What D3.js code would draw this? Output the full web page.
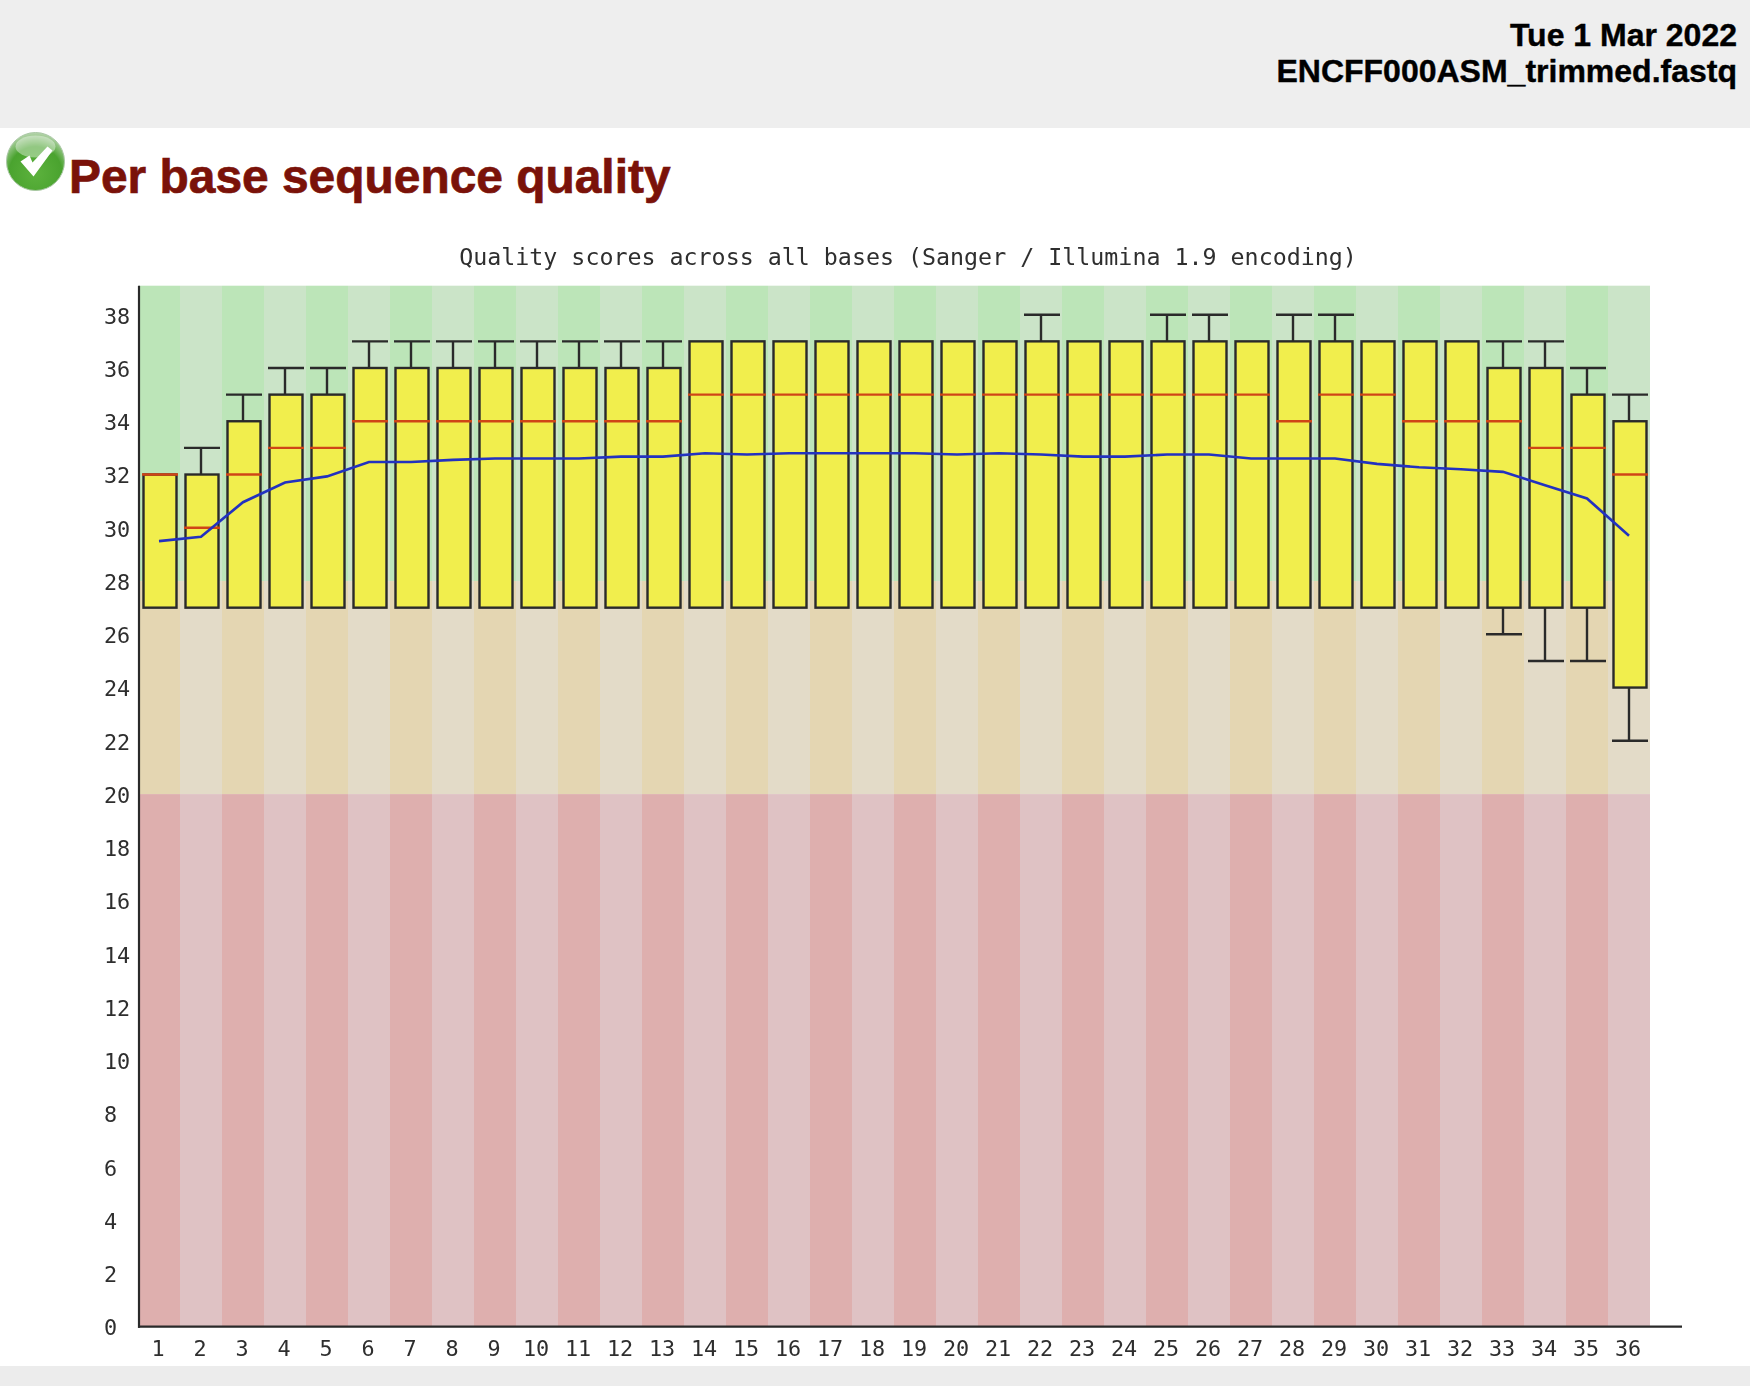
<!DOCTYPE html>
<html>
<head>
<meta charset="utf-8">
<title>Per base sequence quality</title>
<script src="https://cdn.jsdelivr.net/npm/d3@7"></script>
<style>
  html, body { margin: 0; padding: 0; background: #fff; }
  svg { display: block; }
  .mono { font-family: "DejaVu Sans Mono", monospace; fill: #2e2e2e; }
  .sans { font-family: "Liberation Sans", Arial, sans-serif; font-weight: bold; }
</style>
</head>
<body>
<div id="chart"></div>
<script>
const positions = d3.range(1, 37);
const yTicks = [0, 2, 4, 6, 8, 10, 12, 14, 16, 18, 20, 22, 24, 26, 28, 30, 32, 34, 36, 38];

const q3 = [32, 32, 34, 35, 35, 36, 36, 36, 36, 36, 36, 36, 36, 37, 37, 37, 37, 37,
  37, 37, 37, 37, 37, 37, 37, 37, 37, 37, 37, 37, 37, 37, 36, 36, 35, 34];
const medians = [32, 30, 32, 33, 33, 34, 34, 34, 34, 34, 34, 34, 34, 35, 35, 35, 35, 35,
  35, 35, 35, 35, 35, 35, 35, 35, 35, 34, 35, 35, 34, 34, 34, 33, 33, 32];
const q1 = [27, 27, 27, 27, 27, 27, 27, 27, 27, 27, 27, 27, 27, 27, 27, 27, 27, 27,
  27, 27, 27, 27, 27, 27, 27, 27, 27, 27, 27, 27, 27, 27, 27, 27, 27, 24];
const whiskerHigh = [32, 33, 35, 36, 36, 37, 37, 37, 37, 37, 37, 37, 37, 37, 37, 37, 37, 37,
  37, 37, 37, 38, 37, 37, 38, 38, 37, 38, 38, 37, 37, 37, 37, 37, 36, 35];
const whiskerLow = [27, 27, 27, 27, 27, 27, 27, 27, 27, 27, 27, 27, 27, 27, 27, 27, 27, 27,
  27, 27, 27, 27, 27, 27, 27, 27, 27, 27, 27, 27, 27, 27, 26, 25, 25, 22];
const means = [29.5, 29.66, 30.96, 31.7, 31.93, 32.47, 32.47, 32.55, 32.6, 32.6, 32.6, 32.67,
  32.67, 32.8, 32.75, 32.8, 32.8, 32.8, 32.8, 32.75, 32.8, 32.75, 32.67, 32.67, 32.75, 32.75,
  32.6, 32.6, 32.6, 32.4, 32.27, 32.2, 32.1, 31.6, 31.1, 29.7];

const zones = [
  { from: 28, to: 39.09, dark: "#bce5b8", light: "#cbe4c8" },
  { from: 20, to: 28, dark: "#e4d6b2", light: "#e3dbc8" },
  { from: 0, to: 20, dark: "#deafae", light: "#dfc2c4" },
];

const width = 1750;
const height = 1386;

const svg = d3
  .select("#chart")
  .append("svg")
  .attr("width", width)
  .attr("height", height)
  .attr("viewBox", `0 0 ${width} ${height}`);

const defs = svg.append("defs");
defs.append("filter").attr("id", "soft").attr("filterUnits", "userSpaceOnUse")
  .attr("x", 0).attr("y", 0).attr("width", width).attr("height", height)
  .append("feGaussianBlur").attr("stdDeviation", 0.5);

// page furniture
svg.append("rect").attr("width", width).attr("height", 128).attr("fill", "#eeeeee");
svg.append("rect").attr("y", 1366).attr("width", width).attr("height", 20).attr("fill", "#ececec");

svg.append("text").attr("class", "sans").attr("x", 1737).attr("y", 45.5)
  .attr("text-anchor", "end").attr("font-size", 32).attr("fill", "#000")
  .attr("stroke", "#000").attr("stroke-width", 0.4).text("Tue 1 Mar 2022");
svg.append("text").attr("class", "sans").attr("x", 1737).attr("y", 81.5)
  .attr("text-anchor", "end").attr("font-size", 32).attr("fill", "#000")
  .attr("stroke", "#000").attr("stroke-width", 0.4).text("ENCFF000ASM_trimmed.fastq");
svg.append("text").attr("class", "sans").attr("x", 69).attr("y", 193)
  .attr("font-size", 47.9).attr("fill", "#7a1209")
  .attr("stroke", "#7a1209").attr("stroke-width", 0.7).text("Per base sequence quality");

// tick icon
const grad = defs.append("radialGradient").attr("id", "okGrad")
  .attr("cx", "50%").attr("cy", "70%").attr("r", "70%");
grad.append("stop").attr("offset", "0%").attr("stop-color", "#5cb23d");
grad.append("stop").attr("offset", "65%").attr("stop-color", "#4aa32f");
grad.append("stop").attr("offset", "100%").attr("stop-color", "#b9d6b0");
const icon = svg.append("g").attr("transform", "translate(35.5,161.5)");
icon.append("circle").attr("r", 29).attr("fill", "url(#okGrad)").attr("stroke", "#a9c7a4").attr("stroke-width", 1);
icon.append("ellipse").attr("cy", -15).attr("rx", 20).attr("ry", 11).attr("fill", "#fff").attr("opacity", 0.4);
icon.append("path").attr("d", "M-15,0 L-6,-6 L-3,1 L12,-15 L17,-11 L-2,15 Z").attr("fill", "#fff");

// plot
const x = d3.scaleBand().domain(positions).range([138, 1650]);
const y = d3.scaleLinear().domain([0, 39.09]).range([1326.7, 285.7]);

const plot = svg.append("g").attr("filter", "url(#soft)");

zones.forEach((z) => {
  plot.append("g")
    .selectAll("rect")
    .data(positions)
    .join("rect")
    .attr("x", (d) => Math.max(x(d), 139))
    .attr("y", y(z.to))
    .attr("width", (d) => x(d) + x.bandwidth() - Math.max(x(d), 139))
    .attr("height", y(z.from) - y(z.to))
    .attr("fill", (d) => (d % 2 ? z.dark : z.light));
});

const boxW = 33;
const capW = 36;
const ink = "#2a2a2a";
const cx = (i) => x(positions[i]) + x.bandwidth() / 2;

const boxes = plot.append("g").selectAll("g").data(positions).join("g");

// whiskers drawn first so the boxes sit on top
boxes.each(function (d, i) {
  const g = d3.select(this);
  [[whiskerHigh[i], q3[i]], [whiskerLow[i], q1[i]]].forEach(([tip, edge]) => {
    if (tip === edge) return;
    g.append("line").attr("x1", cx(i)).attr("x2", cx(i))
      .attr("y1", y(tip)).attr("y2", y(edge)).attr("stroke", ink).attr("stroke-width", 2.4);
    g.append("line").attr("x1", cx(i) + 1 - capW / 2).attr("x2", cx(i) + 1 + capW / 2)
      .attr("y1", y(tip)).attr("y2", y(tip)).attr("stroke", ink).attr("stroke-width", 2.4);
  });
  g.append("rect")
    .attr("x", cx(i) + 1 - boxW / 2)
    .attr("y", y(q3[i]))
    .attr("width", boxW)
    .attr("height", y(q1[i]) - y(q3[i]))
    .attr("fill", "#f1ee4d")
    .attr("stroke", ink)
    .attr("stroke-width", 2.4);
  g.append("line").attr("x1", cx(i) + 1 - capW / 2).attr("x2", cx(i) + 1 + capW / 2)
    .attr("y1", y(medians[i])).attr("y2", y(medians[i]))
    .attr("stroke", "#cf4418").attr("stroke-width", 2.4);
});

const meanLine = d3.line().x((d, i) => cx(i)).y((d) => y(d));
plot.append("path").datum(means).attr("d", meanLine)
  .attr("fill", "none").attr("stroke", "#2430c0").attr("stroke-width", 2.6);

// axes
const yAxis = plot.append("g").attr("transform", "translate(139,0)")
  .call(d3.axisLeft(y).tickValues(yTicks).tickSize(0).tickFormat((d) => d));
yAxis.select(".domain").remove();
yAxis.selectAll("text")
  .attr("class", "mono")
  .attr("x", -35)
  .attr("dy", "0.38em")
  .attr("text-anchor", "start")
  .attr("font-size", 21.8);

const xAxis = plot.append("g").attr("transform", "translate(-1,1326.7)")
  .call(d3.axisBottom(x).tickSize(0));
xAxis.select(".domain").remove();
xAxis.selectAll("text")
  .attr("class", "mono")
  .attr("y", 29)
  .attr("dy", 0)
  .attr("font-size", 21.8);

plot.append("line").attr("x1", 139).attr("x2", 139).attr("y1", 285.7).attr("y2", 1327.7)
  .attr("stroke", ink).attr("stroke-width", 2.2);
plot.append("line").attr("x1", 138).attr("x2", 1682).attr("y1", 1326.7).attr("y2", 1326.7)
  .attr("stroke", ink).attr("stroke-width", 2.2);

plot.append("text").attr("class", "mono").attr("x", 908).attr("y", 265)
  .attr("text-anchor", "middle").attr("font-size", 23.3)
  .text("Quality scores across all bases (Sanger / Illumina 1.9 encoding)");
</script>
</body>
</html>
